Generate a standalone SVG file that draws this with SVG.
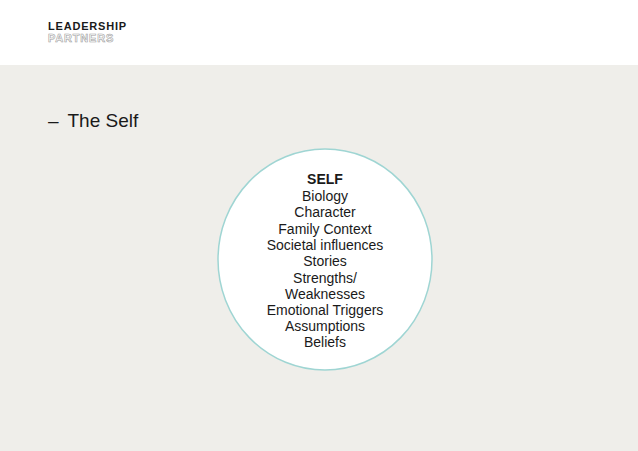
<svg xmlns="http://www.w3.org/2000/svg" width="638" height="451" viewBox="0 0 638 451">
  <style>
    .logo { font-family: "Liberation Sans", Arial, sans-serif; font-weight: bold; font-size: 11px; letter-spacing: 0.8px; }
    .item { font-family: "Liberation Sans", Arial, sans-serif; font-size: 14px; fill: #1a1a1a; text-anchor: middle; }
  </style>
  <rect x="0" y="0" width="638" height="65" fill="#ffffff"/>
  <rect x="0" y="65" width="638" height="386" fill="#efeeea"/>
  <g id="logo">
    <text class="logo" x="48" y="30" fill="#1a1a1a">LEADERSHIP</text>
    <text class="logo" x="48" y="42" fill="#ffffff" stroke="#a0a0a0" stroke-width="0.6">PARTNERS</text>
  </g>
  <g id="title">
    <text x="48" y="127" font-family="Liberation Sans, Arial, sans-serif" font-size="19" fill="#1a1a1a">–<tspan dx="4"> The Self</tspan></text>
  </g>
  <g id="self">
    <ellipse cx="325" cy="259.5" rx="107" ry="110.5" fill="#ffffff" stroke="#9fd5d3" stroke-width="1.5"/>
    <text class="item" x="325" y="184" font-size="16" font-weight="bold">SELF</text>
    <text class="item" x="325" y="201">Biology</text>
    <text class="item" x="325" y="217">Character</text>
    <text class="item" x="325" y="233.5">Family Context</text>
    <text class="item" x="325" y="250">Societal influences</text>
    <text class="item" x="325" y="266">Stories</text>
    <text class="item" x="325" y="282.5">Strengths/</text>
    <text class="item" x="325" y="298.5">Weaknesses</text>
    <text class="item" x="325" y="315">Emotional Triggers</text>
    <text class="item" x="325" y="331">Assumptions</text>
    <text class="item" x="325" y="347">Beliefs</text>
  </g>
</svg>
